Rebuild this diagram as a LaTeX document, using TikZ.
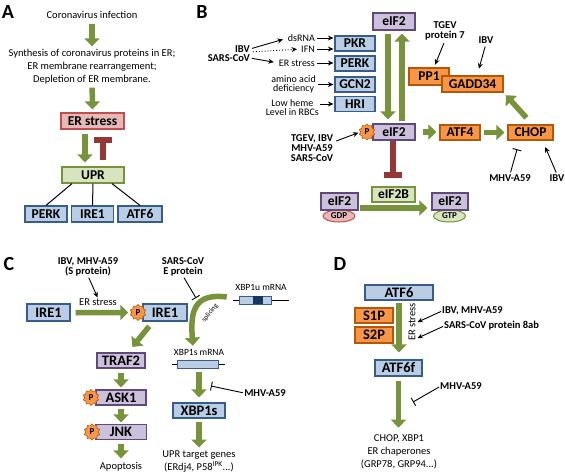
\documentclass[tikz,border=0pt]{standalone}
\usepackage{fontspec}
\setmainfont{Carlito}
\usepackage{tikz}
\usetikzlibrary{arrows.meta,shapes.geometric}
\definecolor{arrowgreen}{HTML}{77933C}
\definecolor{blockred}{HTML}{953735}
\definecolor{pinkfill}{HTML}{E6B9B8}
\definecolor{pinkline}{HTML}{C0504D}
\definecolor{greenfill}{HTML}{D7E4BD}
\definecolor{greenline}{HTML}{77933C}
\definecolor{bluefill}{HTML}{B9CDE5}
\definecolor{blueline}{HTML}{385D8A}
\definecolor{purplefill}{HTML}{CCC1DA}
\definecolor{purpleline}{HTML}{5F497A}
\definecolor{orangefill}{HTML}{F79646}
\definecolor{orangeline}{HTML}{B65708}
\definecolor{darkblue}{HTML}{17375E}

\begin{document}
\begin{tikzpicture}[x=1pt,y=-1pt,
      every node/.style={inner sep=0pt},
      panel/.style={font=\fontsize{20}{20}\selectfont\bfseries},
      labeltxt/.style={font=\fontsize{10.5}{13}\selectfont, align=center},
      tighttxt/.style={font=\fontsize{10}{9}\selectfont, align=center},
      mrnatxt/.style={font=\fontsize{9.5}{10}\selectfont},
      virustxt/.style={font=\fontsize{10.5}{10}\selectfont\bfseries, align=center},
      box/.style={draw, line width=1.2pt, minimum height=15pt, font=\fontsize{13.5}{14}\selectfont\bfseries},
      bigtext/.style={font=\fontsize{14.5}{15}\selectfont\bfseries},
      bluebox/.style={box, fill=bluefill, draw=blueline},
      purplebox/.style={box, fill=purplefill, draw=purpleline},
      orangebox/.style={box, fill=orangefill, draw=orangeline},
      pinkbox/.style={box, fill=pinkfill, draw=pinkline},
      greenbox/.style={box, fill=greenfill, draw=greenline},
      greenarr/.style={draw=arrowgreen, line width=5.5pt, -{Triangle[length=8pt,width=15pt]}},
      blackarr/.style={line width=0.9pt, -{Stealth[length=5.5pt,width=5pt]}},
      blackstop/.style={line width=0.9pt, -{Bar[width=9pt]}},
      redstop/.style={draw=blockred, line width=6pt, -{Bar[width=18pt]}},
      phos/.style={star, star points=10, star point ratio=1.25, minimum size=16pt, fill=orangefill, draw=orangeline, line width=0.6pt, font=\fontsize{9}{9}\selectfont\bfseries},
      pill/.style={ellipse, minimum width=32pt, minimum height=12pt, line width=1pt, font=\fontsize{9}{9}\selectfont\bfseries}]
      \useasboundingbox (0,0) rectangle (565,474);

      \node[panel] (A) at (8,12) {A};
      \node[labeltxt] (Infect) at (92,15) {Coronavirus infection};
      \node[labeltxt] (Synth) at (92,67) {Synthesis of coronavirus proteins in ER;\\ER membrane rearrangement;\\Depletion of ER membrane.};
      \node[pinkbox, minimum width=63pt, minimum height=16pt] (ERs) at (92.5,121) {ER stress};
      \node[greenbox, minimum width=62pt, minimum height=16pt] (UPR) at (93,175) {UPR};
      \node[bluebox, minimum width=42pt, minimum height=16pt] (PERKa) at (46,214) {PERK};
      \node[bluebox, minimum width=42pt, minimum height=16pt] (IREa) at (92.5,214) {IRE1};
      \node[bluebox, minimum width=44pt, minimum height=16pt] (ATFa) at (140,214) {ATF6};
      \draw[greenarr, shorten <=5pt, shorten >=3pt] (Infect) -- (Synth);
      \draw[greenarr, shorten <=3pt, shorten >=3pt] (Synth) -- (ERs);
      \draw[greenarr, shorten <=4pt, shorten >=4pt] ([xshift=-7.5pt]ERs.south) -- ([xshift=-8pt]UPR.north);
      \draw[redstop, shorten <=6pt, shorten >=7pt] ([xshift=10pt]UPR.north) -- ([xshift=10.5pt]ERs.south);
      \draw[line width=1pt] ([xshift=-21pt]UPR.south) -- (PERKa.north);
      \draw[line width=1pt] (UPR.south) -- (IREa.north);
      \draw[line width=1pt] ([xshift=19pt]UPR.south) -- (ATFa.north);

      \node[panel] (B) at (202,12) {B};
      \node[purplebox, minimum width=42pt, minimum height=17pt] (eIFtop) at (394,21.5) {eIF2};
      \node[purplebox, minimum width=42pt, minimum height=16pt] (eIFp) at (394,132) {eIF2};
      \node[phos] (Pb) at (367,132) {P};
      \node[bluebox, minimum width=40pt] (PKR) at (355,43.5) {PKR};
      \node[bluebox, minimum width=40pt] (PERKb) at (355,63.5) {PERK};
      \node[bluebox, minimum width=40pt] (GCN) at (355,84.5) {GCN2};
      \node[bluebox, minimum width=40pt] (HRI) at (355,104) {HRI};
      \node[tighttxt, anchor=east] (dsRNA) at (315,38) {dsRNA};
      \node[tighttxt, anchor=east] (IFN) at (315,49) {IFN};
      \node[tighttxt, anchor=east] (ERb) at (315,63) {ER stress};
      \node[tighttxt, anchor=east] (Amino) at (316,84) {amino acid\\deficiency};
      \node[tighttxt, anchor=east] (Heme) at (319,107.5) {Low heme\\Level in RBCs};
      \node[virustxt, anchor=east] (IBVb) at (250,49) {IBV};
      \node[virustxt, anchor=east] (SARSb) at (250,58) {SARS-CoV};
      \draw[blackarr, shorten <=2pt, shorten >=1pt] (dsRNA.east) -- (dsRNA.east -| PKR.west);
      \draw[blackarr, shorten <=2pt, shorten >=1pt] (IFN.east) -- (IFN.east -| PKR.west);
      \draw[blackarr, shorten <=2pt, shorten >=1pt] (ERb.east) -- (ERb.east -| PERKb.west);
      \draw[blackarr, shorten <=2pt, shorten >=1pt] (Amino.east |- GCN) -- (GCN.west);
      \draw[blackarr, shorten <=1pt, shorten >=1pt] (Heme.east |- HRI) -- (HRI.west);
      \draw[blackarr, shorten <=2pt, shorten >=5pt] (IBVb.east) -- (dsRNA.west);
      \draw[blackarr, dotted, shorten <=3pt, shorten >=4pt] ([yshift=-3pt]IBVb.east) -- (IFN.west);
      \draw[blackarr, shorten <=2pt, shorten >=5pt] (SARSb.east) -- (ERb.west);
      \draw[greenarr, shorten <=3pt, shorten >=4pt] ([xshift=-6pt]eIFtop.south) -- ([xshift=-6pt]eIFp.north);
      \draw[greenarr, shorten <=2pt, shorten >=3pt] ([xshift=8pt]eIFp.north) -- ([xshift=8pt]eIFtop.south);
      \node[virustxt] (TGEVb) at (312,148) {TGEV, IBV\\MHV-A59\\SARS-CoV};
      \draw[blackarr, shorten >=2pt] ([xshift=3pt,yshift=7pt]TGEVb.east) -- (Pb.west);
      \node[orangebox, minimum width=40pt, minimum height=17pt] (PP1) at (429,76.5) {PP1};
      \node[orangebox, minimum width=61pt, minimum height=16pt] (GADD) at (472.5,84) {GADD34};
      \node[virustxt] (TGEV7) at (445,31) {TGEV\\protein 7};
      \node[virustxt] (IBVg) at (486,40) {IBV};
      \draw[blackarr, shorten <=3pt, shorten >=3pt] (TGEV7.south) -- ([xshift=5pt]PP1.north);
      \draw[blackarr, shorten <=3pt, shorten >=7pt] (IBVg.south) -- ([xshift=4.5pt]GADD.north);
      \node[orangebox, minimum width=40pt] (ATF4) at (460,132.5) {ATF4};
      \node[orangebox, minimum width=45pt] (CHOP) at (530.5,132.5) {CHOP};
      \draw[greenarr, shorten <=7pt, shorten >=3pt] (eIFp.east) -- (eIFp.east -| ATF4.west);
      \draw[greenarr, shorten <=3pt, shorten >=3pt] (ATF4.east) -- (CHOP.west);
      \draw[greenarr, shorten <=9pt, shorten >=3.5pt] ([xshift=2pt]CHOP.north) -- (GADD.south east);
      \node[virustxt] (MHVb) at (510,178) {MHV-A59};
      \node[virustxt] (IBVc) at (557,178) {IBV};
      \draw[blackstop, shorten <=2pt, shorten >=9pt] (MHVb.north) -- ([xshift=-11pt]CHOP.south);
      \draw[blackarr, shorten <=2pt, shorten >=7pt] (IBVc.north) -- ([xshift=12pt]CHOP.south);
      \node[greenbox, minimum width=43pt] (eIF2B) at (393.5,194.5) {eIF2B};
      \draw[redstop, shorten >=8pt] ([xshift=-1pt]eIFp.south) -- ([xshift=-0.5pt]eIF2B.north);
      \node[pill, fill=pinkfill, draw=pinkline] (GDP) at (339,216) {GDP};
      \node[purplebox, minimum width=37pt, minimum height=17pt] (eIFgdp) at (339.5,201.5) {eIF2};
      \node[pill, fill=greenfill, draw=greenline] (GTP) at (449.5,216) {GTP};
      \node[purplebox, minimum width=36pt, minimum height=17pt] (eIFgtp) at (450,201.5) {eIF2};
      \draw[greenarr, shorten <=1pt, shorten >=4pt] ([yshift=-6.5pt]eIFgdp.east) -- ([yshift=-6.5pt]eIFgtp.west);

      \node[panel] (C) at (9,264) {C};
      \node[virustxt] (Sprot) at (88,266.5) {IBV, MHV-A59\\(S protein)};
      \node[virustxt] (Eprot) at (183,266.5) {SARS-CoV\\E protein};
      \node[bluebox, bigtext, minimum width=43pt, minimum height=17pt] (IREc) at (48.5,312.5) {IRE1};
      \node[bluebox, bigtext, minimum width=44pt, minimum height=17pt] (IREp) at (165,312.5) {IRE1};
      \node[phos] (Pc) at (138,312.5) {P};
      \node[labeltxt] (ERc) at (98,302) {ER stress};
      \draw[greenarr, shorten <=5pt, shorten >=3pt] (IREc.east) -- (Pc.west);
      \draw[blackarr, shorten <=2pt, shorten >=1pt] (Sprot.south) -- (ERc.north);
      \coordinate (Splice) at (196,298);
      \draw[blackstop, shorten <=2pt] (Eprot.south) -- (Splice);
      \node[mrnatxt] (XBPu) at (261,287) {XBP1u mRNA};
      \draw[line width=1pt] (233,300) -- (289,300);
      \node[draw=blueline, fill=bluefill, line width=0.6pt, minimum width=32pt, minimum height=8pt] (XBPubox) at (255,300) {};
      \node[fill=darkblue, minimum width=10pt, minimum height=8pt] (XBPuint) at (258,300) {};
      \node[mrnatxt] (XBPs) at (199,352) {XBP1s mRNA};
      \draw[line width=1pt] (172,364) -- (225,364);
      \node[draw=blueline, fill=bluefill, line width=0.6pt, minimum width=41pt, minimum height=8pt] (XBPsbox) at (197.5,364) {};
      \draw[greenarr] ([xshift=-12pt,yshift=3pt]XBPubox.west) .. controls (195,293) and (190,310) .. ([xshift=-6pt,yshift=3pt]XBPs.north);
      \node[font=\fontsize{7}{7}\selectfont, rotate=50] (Splab) at (210,313) {splicing};
      \node[bluebox, bigtext, minimum width=52pt] (XBP1s) at (199,410.5) {XBP1s};
      \draw[greenarr, shorten <=4pt, shorten >=5pt] (XBP1s.north |- XBPsbox.south) -- (XBP1s.north);
      \node[virustxt] (MHVc) at (265,393) {MHV-A59};
      \coordinate (XBPstop) at (211,386);
      \draw[blackstop, shorten <=1pt] (MHVc.west) -- (XBPstop);
      \node[labeltxt] (Targets) at (199,461.5) {UPR target genes\\(ERdj4, P58\textsuperscript{IPK}...)};
      \draw[greenarr, shorten <=3pt, shorten >=3pt] (XBP1s.south) -- (Targets.north);
      \node[purplebox, bigtext, minimum width=48pt] (TRAF) at (121,360.5) {TRAF2};
      \node[purplebox, bigtext, minimum width=50pt] (ASK) at (121,397.5) {ASK1};
      \node[phos] (Pask) at (91,397.5) {P};
      \node[purplebox, bigtext, minimum width=51pt] (JNK) at (121,432) {JNK};
      \node[phos] (Pjnk) at (92,432) {P};
      \node[labeltxt] (Apop) at (121,467) {Apoptosis};
      \draw[greenarr, shorten <=6pt, shorten >=7pt] ([xshift=-12pt]IREp.south) -- ([xshift=7pt]TRAF.north);
      \draw[greenarr, shorten <=4pt, shorten >=2pt] (TRAF) -- (ASK);
      \draw[greenarr, shorten <=3pt, shorten >=1.5pt] (ASK) -- (JNK);
      \draw[greenarr, shorten <=3.5pt, shorten >=4pt] (JNK) -- (Apop);

      \node[panel] (D) at (340,264) {D};
      \node[bluebox, bigtext, minimum width=68pt] (ATFd) at (399,292.5) {ATF6};
      \node[orangebox, bigtext, minimum width=38pt] (S1P) at (374,315.5) {S1P};
      \node[orangebox, bigtext, minimum width=38pt, minimum height=16pt] (S2P) at (374,335) {S2P};
      \node[bluebox, bigtext, minimum width=47pt, minimum height=16pt] (ATFf) at (398.5,368) {ATF6f};
      \draw[greenarr, shorten <=2pt, shorten >=7pt] (ATFd.south) -- (ATFd.south |- ATFf.north);
      \node[labeltxt, rotate=90] (ERd) at (412,322) {ER stress};
      \node[virustxt, anchor=west] (IBVd) at (442,311) {IBV, MHV-A59};
      \node[virustxt, anchor=west] (SARSd) at (444,326) {SARS-CoV protein 8ab};
      \draw[blackarr, shorten <=1pt, shorten >=2pt] (IBVd.west) -- ([yshift=-1pt]ERd.south);
      \draw[blackarr, shorten <=1pt, shorten >=2pt] (SARSd.west) -- ([yshift=-17pt]ERd.south);
      \node[virustxt, anchor=west] (MHVd) at (440,386.5) {MHV-A59};
      \coordinate (ATFstop) at (413,402);
      \draw[blackstop, shorten <=1pt] (MHVd.west) -- (ATFstop);
      \node[labeltxt] (Genes) at (399,451.5) {CHOP, XBP1\\ER chaperones\\(GRP78, GRP94...)};
      \draw[greenarr, shorten <=4pt, shorten >=6.5pt] (ATFf.south) -- (ATFf.south |- Genes.north);
    \end{tikzpicture}
\end{document}
